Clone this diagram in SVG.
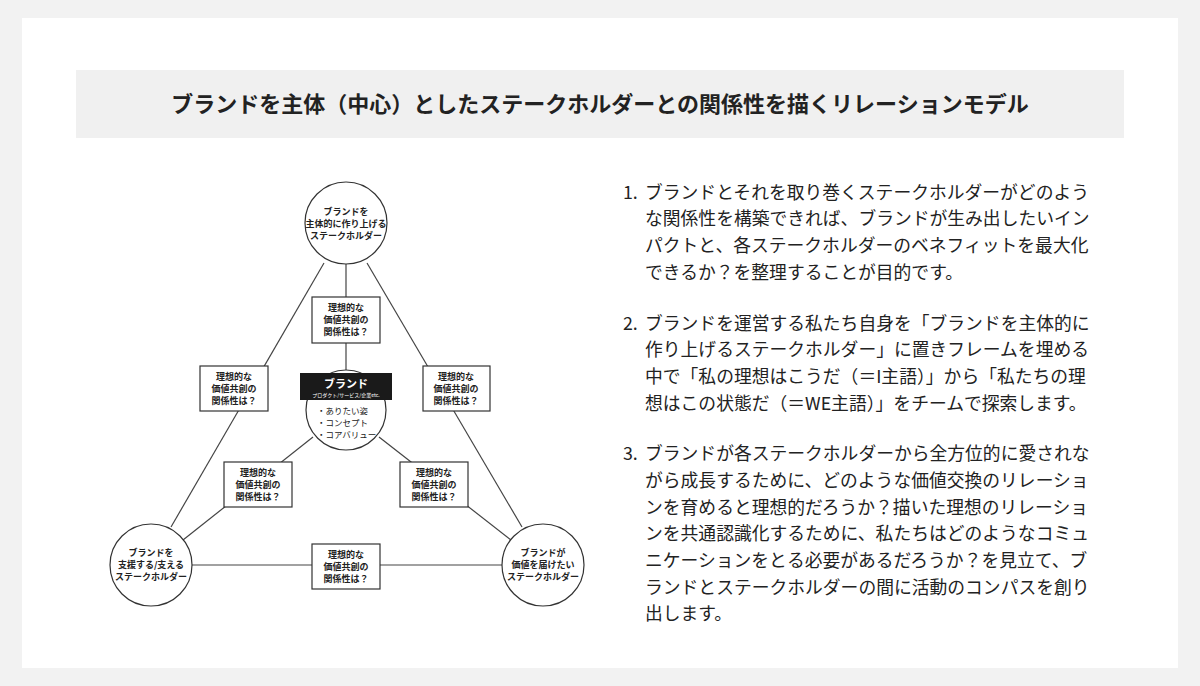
<svg xmlns="http://www.w3.org/2000/svg" width="1200" height="686" viewBox="0 0 1200 686">
<style>
.c{fill:#fff;stroke:#333;stroke-width:1.2}
.b{fill:#fff;stroke:#333;stroke-width:1.2}
.l{stroke:#444;stroke-width:1.2;fill:none}
text{font-family:"Noto Sans CJK JP","Noto Sans",sans-serif;fill:#222}
.s{font-size:9px;font-weight:bold;text-anchor:middle}
.p{font-size:17.8px}
</style>
<rect width="1200" height="686" fill="#f2f2f2"/>
<rect x="22" y="18" width="1156" height="650" fill="#fff"/>
<rect x="76" y="70" width="1048" height="68" fill="#f0f0f0"/>
<text x="600" y="112" font-size="22" font-weight="bold" text-anchor="middle">ブランドを主体（中心）としたステークホルダーとの関係性を描くリレーションモデル</text>
<g id="connectors">
<line class="l" x1="346" y1="264" x2="346" y2="370"/>
<line class="l" x1="324" y1="263" x2="171" y2="527"/>
<line class="l" x1="367" y1="263" x2="522" y2="527"/>
<line class="l" x1="192" y1="565" x2="502" y2="565"/>
<line class="l" x1="313" y1="437" x2="183" y2="540"/>
<line class="l" x1="379" y1="437" x2="511" y2="540"/>
</g>
<g id="top"><circle class="c" cx="346" cy="223" r="41"/>
<text class="s" x="346" y="215">ブランドを</text><text class="s" x="346" y="227">主体的に作り上げる</text><text class="s" x="346" y="239">ステークホルダー</text></g>
<g id="bl"><circle class="c" cx="151" cy="565" r="41"/>
<text class="s" x="151" y="556">ブランドを</text><text class="s" x="151" y="568">支援する/支える</text><text class="s" x="151" y="580">ステークホルダー</text></g>
<g id="br"><circle class="c" cx="543" cy="565" r="41"/>
<text class="s" x="543" y="556">ブランドが</text><text class="s" x="543" y="568">価値を届けたい</text><text class="s" x="543" y="580">ステークホルダー</text></g>
<g id="center"><circle class="c" cx="346" cy="410" r="40"/>
<rect x="300" y="373" width="92" height="27" fill="#1a1a1a"/>
<text x="346" y="388" font-size="11" font-weight="bold" text-anchor="middle" style="fill:#fff">ブランド</text>
<text x="346" y="397" font-size="5" text-anchor="middle" style="fill:#fff">プロダクト/サービス/企業etc.</text>
<text x="317" y="414" font-size="8.5">・ありたい姿</text><text x="317" y="426" font-size="8.5">・コンセプト</text><text x="317" y="438" font-size="8.5">・コアバリュー</text></g>
<g id="r1"><rect class="b" x="312" y="297" width="68" height="46"/><text class="s" x="346" y="311">理想的な</text><text class="s" x="346" y="323">価値共創の</text><text class="s" x="346" y="335">関係性は？</text></g>
<g id="r2"><rect class="b" x="200" y="366" width="68" height="45"/><text class="s" x="234" y="380">理想的な</text><text class="s" x="234" y="392">価値共創の</text><text class="s" x="234" y="404">関係性は？</text></g>
<g id="r3"><rect class="b" x="423" y="366" width="67" height="45"/><text class="s" x="456" y="380">理想的な</text><text class="s" x="456" y="392">価値共創の</text><text class="s" x="456" y="404">関係性は？</text></g>
<g id="r4"><rect class="b" x="224" y="462" width="68" height="45"/><text class="s" x="258" y="476">理想的な</text><text class="s" x="258" y="488">価値共創の</text><text class="s" x="258" y="500">関係性は？</text></g>
<g id="r5"><rect class="b" x="400" y="462" width="68" height="45"/><text class="s" x="434" y="476">理想的な</text><text class="s" x="434" y="488">価値共創の</text><text class="s" x="434" y="500">関係性は？</text></g>
<g id="r6"><rect class="b" x="312" y="544" width="68" height="45"/><text class="s" x="346" y="558">理想的な</text><text class="s" x="346" y="570">価値共創の</text><text class="s" x="346" y="582">関係性は？</text></g>
<g id="text" class="p">
<text class="p" x="623" y="199">1.</text>
<text class="p" x="645" y="199">ブランドとそれを取り巻くステークホルダーがどのよう</text>
<text class="p" x="645" y="225">な関係性を構築できれば、ブランドが生み出したいイン</text>
<text class="p" x="645" y="252">パクトと、各ステークホルダーのベネフィットを最大化</text>
<text class="p" x="645" y="279">できるか？を整理することが目的です。</text>
<text class="p" x="623" y="330">2.</text>
<text class="p" x="645" y="330">ブランドを運営する私たち自身を「ブランドを主体的に</text>
<text class="p" x="645" y="356">作り上げるステークホルダー」に置きフレームを埋める</text>
<text class="p" x="645" y="383">中で「私の理想はこうだ（＝I主語）」から「私たちの理</text>
<text class="p" x="645" y="410">想はこの状態だ（＝WE主語）」をチームで探索します。</text>
<text class="p" x="623" y="460">3.</text>
<text class="p" x="645" y="460">ブランドが各ステークホルダーから全方位的に愛されな</text>
<text class="p" x="645" y="487">がら成長するために、どのような価値交換のリレーショ</text>
<text class="p" x="645" y="514">ンを育めると理想的だろうか？描いた理想のリレーショ</text>
<text class="p" x="645" y="540">ンを共通認識化するために、私たちはどのようなコミュ</text>
<text class="p" x="645" y="567">ニケーションをとる必要があるだろうか？を見立て、ブ</text>
<text class="p" x="645" y="594">ランドとステークホルダーの間に活動のコンパスを創り</text>
<text class="p" x="645" y="620">出します。</text>
</g>
</svg>
